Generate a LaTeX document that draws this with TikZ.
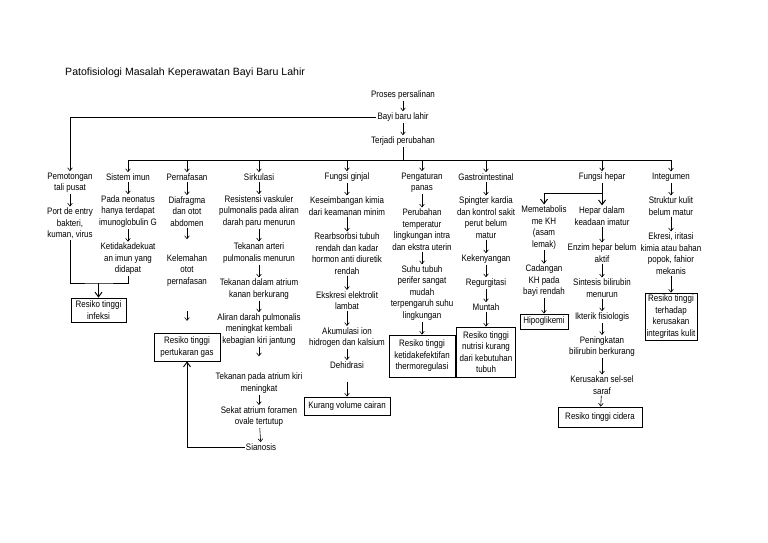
\documentclass[tikz,border=0pt]{standalone}
\usepackage{fontspec}
\setmainfont{Liberation Sans}[FakeStretch=0.85]
\newfontfamily\judulfont{Liberation Sans}
\usetikzlibrary{arrows.meta}

\begin{document}
\begin{tikzpicture}[x=0.03cm, y=-0.03cm,
    teks/.style={align=center, inner sep=1pt, font=\fontsize{8}{9.8}\selectfont},
    kotak/.style={teks, draw, line width=0.7pt},
    garis/.style={line width=0.8pt},
    panah/.style={line width=0.5pt, -{Straight Barb[length=2.5pt,width=4pt]}},
    panahv/.style={line width=0.8pt, -{Straight Barb[length=4pt,width=6pt]}}]
    \fill[white] (0,0) rectangle (768,543);
    \useasboundingbox (0,0) rectangle (768,543);

    % Judul
    \node[anchor=west, inner sep=0pt, font=\judulfont\fontsize{9}{11}\selectfont] (judul) at (65,73) {Patofisiologi Masalah Keperawatan Bayi Baru Lahir};

    % Alur utama
    \node[teks] (proses) at (403,95) {Proses persalinan};
    \node[teks] (bayi) at (403,117) {Bayi baru lahir};
    \node[teks] (terjadi) at (403,141) {Terjadi perubahan};
    \draw[panah] (proses) -- (bayi);
    \draw[panah] (bayi) -- (terjadi);
    \coordinate (bus) at (403,160);

    % Pemotongan tali pusat
    \node[teks] (pem) at (70,182.5) {Pemotongan\\tali pusat};
    \node[teks] (port) at (70,223.5) {Port de entry\\bakteri,\\kuman, virus};
    \node[kotak, minimum width=1.65cm, minimum height=0.72cm] (infeksi) at (98.5,310) {Resiko tinggi\\infeksi};
    \coordinate (gabung) at (98.5,283);
    \draw[garis, panah] (bayi) -| (pem);
    \draw[panah] (pem) -- (port);

    % Sistem imun
    \node[teks] (imun) at (128,177) {Sistem imun};
    \node[teks] (neo) at (128,211.5) {Pada neonatus\\hanya terdapat\\imunoglobulin G};
    \node[teks] (didapat) at (128,259) {Ketidakadekuat\\an imun yang\\didapat};
    \draw[panah] (imun) -- (neo);
    \draw[panah] (neo) -- (didapat);
    \draw[garis] (port) |- (gabung) -| (didapat);
    \draw[panahv] (gabung) -- (infeksi);

    % Pernafasan
    \node[teks] (nafas) at (187,177) {Pernafasan};
    \node[teks] (diafragma) at (187,211.5) {Diafragma\\dan otot\\abdomen};
    \node[teks] (lemah) at (187,270.5) {Kelemahan\\otot\\pernafasan};
    \node[kotak, minimum width=1.98cm, minimum height=0.84cm] (gas) at (187,347) {Resiko tinggi\\pertukaran gas};
    \draw[panah] (nafas) -- (diafragma);
    \draw[panah, shorten >=12pt] (diafragma) -- (lemah);
    \draw[panah, shorten <=20pt, shorten >=10pt] (lemah) -- (gas);

    % Sirkulasi
    \node[teks] (sirk) at (259,177) {Sirkulasi};
    \node[teks] (resist) at (259,211.5) {Resistensi vaskuler\\pulmonalis pada aliran\\darah paru menurun};
    \node[teks] (arteri) at (259,253) {Tekanan arteri\\pulmonalis menurun};
    \node[teks] (atrium) at (259,289) {Tekanan dalam atrium\\kanan berkurang};
    \node[teks] (aliran) at (259,329.5) {Aliran darah pulmonalis\\meningkat kembali\\kebagian kiri jantung};
    \node[teks] (tekkiri) at (259,383) {Tekanan pada atrium kiri\\meningkat};
    \node[teks] (sekat) at (259,416.5) {Sekat atrium foramen\\ovale tertutup};
    \node[teks] (sianosis) at (261,447) {Sianosis};
    \draw[panah] (sirk) -- (resist);
    \draw[panah] (resist) -- (arteri);
    \draw[panah] (arteri) -- (atrium);
    \draw[panah] (atrium) -- (aliran);
    \draw[panah, shorten >=13pt] (aliran) -- (tekkiri);
    \draw[panah] (tekkiri) -- (sekat);
    \draw[panah] (sekat) -- (sianosis);
    \draw[panahv] (sianosis) -| (gas);

    % Fungsi ginjal
    \node[teks] (ginjal) at (347,177) {Fungsi ginjal};
    \node[teks] (kimia) at (347,206) {Keseimbangan kimia\\dari keamanan minim};
    \node[teks] (reabs) at (347,253.5) {Rearbsorbsi tubuh\\rendah dan kadar\\hormon anti diuretik\\rendah};
    \node[teks] (ekskresi) at (347,300.5) {Ekskresi elektrolit\\lambat};
    \node[teks] (akum) at (347,337.5) {Akumulasi ion\\hidrogen dan kalsium};
    \node[teks] (dehidrasi) at (347,365) {Dehidrasi};
    \node[kotak, minimum width=2.58cm, minimum height=0.54cm] (kurang) at (347,406) {Kurang volume cairan};
    \draw[panah] (ginjal) -- (kimia);
    \draw[panah] (kimia) -- (reabs);
    \draw[panah] (reabs) -- (ekskresi);
    \draw[panah] (ekskresi) -- (akum);
    \draw[panah] (akum) -- (dehidrasi);
    \draw[panah, shorten <=10pt] (dehidrasi) -- (kurang);

    % Pengaturan panas
    \node[teks] (panas) at (422,182.5) {Pengaturan\\panas};
    \node[teks] (perubahan) at (422,229.5) {Perubahan\\temperatur\\lingkungan intra\\dan ekstra uterin};
    \node[teks] (suhu) at (422,293) {Suhu tubuh\\perifer sangat\\mudah\\terpengaruh suhu\\lingkungan};
    \node[kotak, minimum width=1.98cm, minimum height=1.26cm] (thermo) at (422,356) {Resiko tinggi\\ketidakefektifan\\thermoregulasi};
    \draw[panah] (panas) -- (perubahan);
    \draw[panah] (perubahan) -- (suhu);
    \draw[panah] (suhu) -- (thermo);

    % Gastrointestinal
    \node[teks] (gastro) at (486,177) {Gastrointestinal};
    \node[teks] (spingter) at (486,217.5) {Spingter kardia\\dan kontrol sakit\\perut belum\\matur};
    \node[teks] (kenyang) at (486,259) {Kekenyangan};
    \node[teks] (regur) at (486,283) {Regurgitasi};
    \node[teks] (muntah) at (486,307) {Muntah};
    \node[kotak, minimum width=1.77cm, minimum height=1.5cm] (nutrisi) at (486,352) {Resiko tinggi\\nutrisi kurang\\dari kebutuhan\\tubuh};
    \draw[panah] (gastro) -- (spingter);
    \draw[panah] (spingter) -- (kenyang);
    \draw[panah] (kenyang) -- (regur);
    \draw[panah] (regur) -- (muntah);
    \draw[panah] (muntah) -- (nutrisi);

    % Fungsi hepar
    \node[teks] (hepar) at (602,177) {Fungsi hepar};
    \coordinate (cabang) at (602,193);
    \node[teks] (metab) at (544,227.5) {Memetabolis\\me KH\\(asam\\lemak)};
    \node[teks] (cadangan) at (544,281) {Cadangan\\KH pada\\bayi rendah};
    \node[kotak, minimum width=1.44cm, minimum height=0.45cm] (hipo) at (544,321.5) {Hipoglikemi};
    \node[teks] (imatur) at (602,216) {Hepar dalam\\keadaan imatur};
    \node[teks] (enzim) at (602,253) {Enzim hepar belum\\aktif};
    \node[teks] (sintesis) at (602,288) {Sintesis bilirubin\\menurun};
    \node[teks] (ikterik) at (602,317) {Ikterik fisiologis};
    \node[teks] (naik) at (602,346.5) {Peningkatan\\bilirubin berkurang};
    \node[teks] (saraf) at (602,385) {Kerusakan sel-sel\\saraf};
    \node[kotak, minimum width=2.52cm, minimum height=0.6cm] (cidera) at (600,417) {Resiko tinggi cidera};
    \draw[garis] (hepar) -- (cabang);
    \draw[panahv] (cabang) -| (metab);
    \draw[panahv] (cabang) -- (imatur);
    \draw[panah] (metab) -- (cadangan);
    \draw[panah] (cadangan) -- (hipo);
    \draw[panah] (imatur) -- (enzim);
    \draw[panah] (enzim) -- (sintesis);
    \draw[panah] (sintesis) -- (ikterik);
    \draw[panah] (ikterik) -- (naik);
    \draw[panah] (naik) -- (saraf);
    \draw[panah] (saraf) -- (cidera);

    % Integumen
    \node[teks] (integ) at (671,177) {Integumen};
    \node[teks] (struktur) at (671,206) {Struktur kulit\\belum matur};
    \node[teks] (ekresi) at (671,253.5) {Ekresi, iritasi\\kimia atau bahan\\popok, fahior\\mekanis};
    \node[kotak, minimum width=1.56cm, minimum height=1.41cm] (integritas) at (671,316.5) {Resiko tinggi\\terhadap\\kerusakan\\integritas kulit};
    \draw[panah] (integ) -- (struktur);
    \draw[panah] (struktur) -- (ekresi);
    \draw[panah] (ekresi) -- (integritas);

    % Garis cabang
    \draw[garis] (terjadi) -- (bus);
    \draw[garis] (imun |- bus) -- (integ |- bus);
    \draw[panah] (imun |- bus) -- (imun);
    \draw[panah] (nafas |- bus) -- (nafas);
    \draw[panah] (sirk |- bus) -- (sirk);
    \draw[panah] (ginjal |- bus) -- (ginjal);
    \draw[panah] (panas |- bus) -- (panas);
    \draw[panah] (gastro |- bus) -- (gastro);
    \draw[panah] (hepar |- bus) -- (hepar);
    \draw[panah] (integ |- bus) -- (integ);
\end{tikzpicture}
\end{document}
